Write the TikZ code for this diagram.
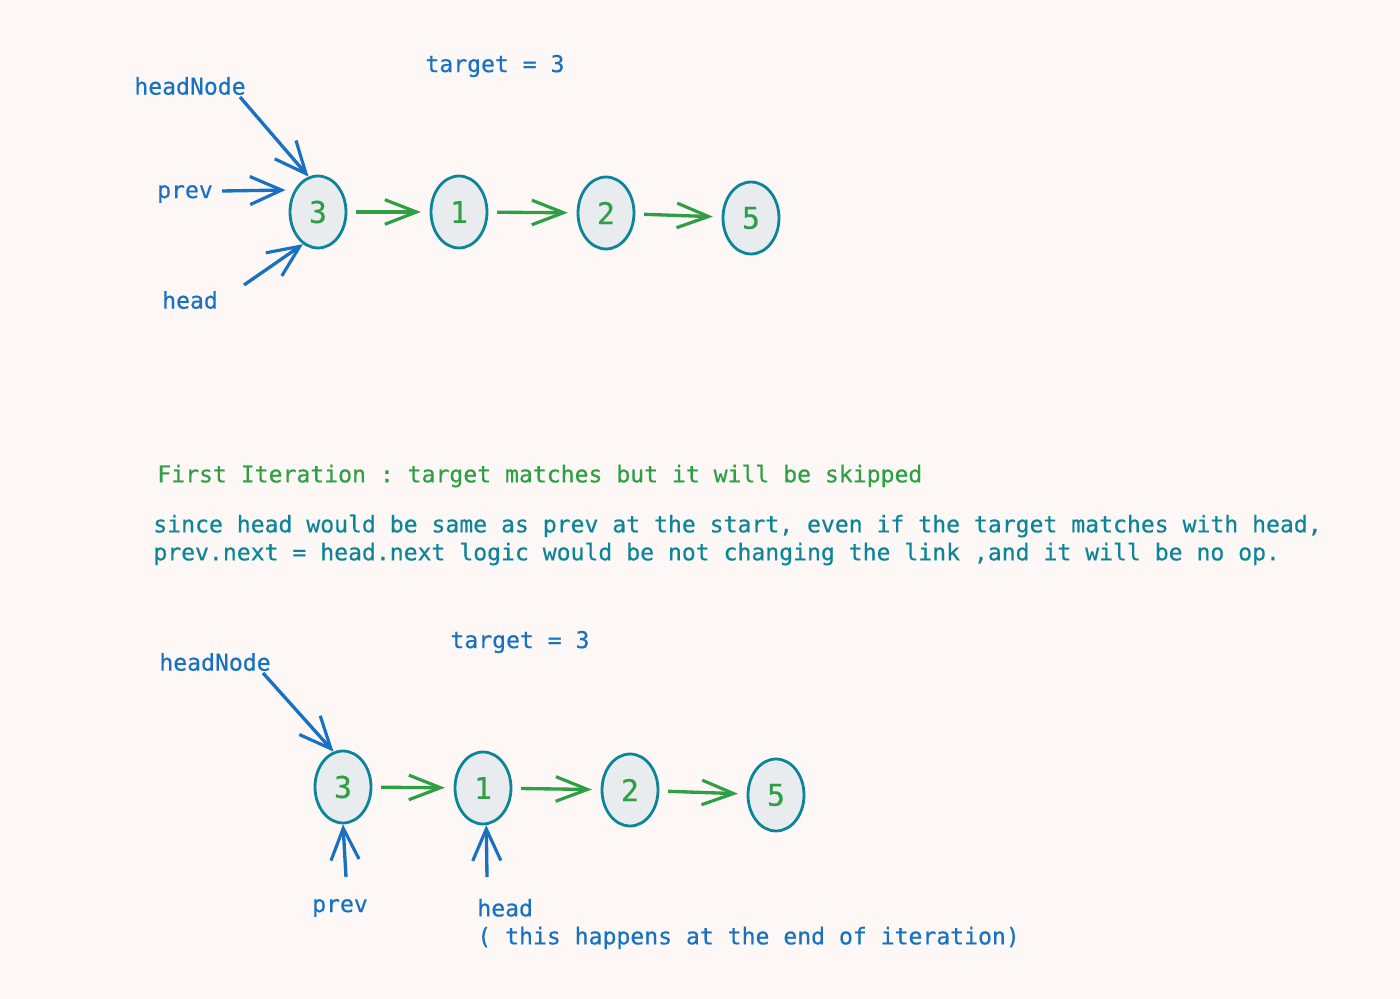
\documentclass[tikz,border=0pt]{standalone}
\usepackage{fontspec}
\setmonofont{DejaVu Sans Mono}[UprightFeatures={FakeBold=0.5}]
\usepackage{tikz}
\usetikzlibrary{arrows.meta, shapes.geometric, positioning}

\definecolor{bgpaper}{HTML}{FDF8F6}
\definecolor{ptrblue}{HTML}{1971C2}
\definecolor{linkgreen}{HTML}{2F9E44}
\definecolor{nodeteal}{HTML}{0C8599}
\definecolor{nodefill}{HTML}{E9ECEF}

\tikzset{
  listnode/.style={
    ellipse, minimum width=1.12cm, minimum height=1.44cm, inner sep=0pt,
    draw=nodeteal, fill=nodefill, line width=1.6pt,
    text=linkgreen, font=\ttfamily\fontsize{17}{19}\selectfont
  },
  ptrlabel/.style={
    inner sep=0pt, text=ptrblue, font=\ttfamily\fontsize{13.15}{15.9}\selectfont
  },
  notetext/.style={
    inner sep=0pt, align=left, text=#1, font=\ttfamily\fontsize{13.15}{15.9}\selectfont
  },
  linkarrow/.style={
    -{Straight Barb[length=18pt, width=14pt, line width=1.8pt]},
    line width=1.9pt, color=linkgreen, shorten <=5pt, shorten >=5pt
  },
  ptrarrow/.style={
    -{Straight Barb[length=18pt, width=16pt, line width=1.8pt]},
    line width=1.9pt, color=ptrblue
  },
}

\begin{document}
\begin{tikzpicture}[x=0.02cm, y=-0.02cm]
    \fill[bgpaper] (0,0) rectangle (1400,999);
    \useasboundingbox (0,0) rectangle (1400,999);

    % before the loop
    \node[ptrlabel] (tgtA) at (495,66) {target = 3};
    \node[listnode] (a3) at (318,212) {3};
    \node[listnode] (a1) at (459,212) {1};
    \node[listnode] (a2) at (606,213) {2};
    \node[listnode] (a5) at (751,218) {5};
    \draw[linkarrow] (a3) -- (a1);
    \draw[linkarrow] (a1) -- (a2);
    \draw[linkarrow] (a2) -- (a5);

    \node[ptrlabel] (hnA)   at (190,86)  {headNode};
    \node[ptrlabel] (prevA) at (185,194) {prev};
    \node[ptrlabel] (headA) at (190,300) {head};
    \coordinate (hnAt)   at (240,97);
    \coordinate (prevAt) at (222,191);
    \coordinate (headAt) at (244,285);
    \draw[ptrarrow] (hnAt) -- (a3.105);
    \draw[ptrarrow, shorten >=5pt] (prevAt) -- (a3.137);
    \draw[ptrarrow] (headAt) -- (a3.245);

    % explanation
    \node[notetext=linkgreen, anchor=west] (iter) at (157,476)
      {First Iteration : target matches but it will be skipped};
    \node[notetext=nodeteal, anchor=west] (why) at (153,540)
      {since head would be same as prev at the start, even if the target matches with head,\\
       prev.next = head.next logic would be not changing the link ,and it will be no op.};

    % after the first iteration
    \node[ptrlabel] (tgtB) at (520,642) {target = 3};
    \node[listnode] (b3) at (343,787) {3};
    \node[listnode] (b1) at (483,788) {1};
    \node[listnode] (b2) at (630,790) {2};
    \node[listnode] (b5) at (776,795) {5};
    \draw[linkarrow] (b3) -- (b1);
    \draw[linkarrow] (b1) -- (b2);
    \draw[linkarrow] (b2) -- (b5);

    \node[ptrlabel] (hnB)   at (215,662) {headNode};
    \node[ptrlabel] (prevB) at (340,908) {prev};
    \node[notetext=ptrblue, anchor=west] (headB) at (477,924)
      {head\\( this happens at the end of iteration)};
    \coordinate (hnBt)   at (263,673);
    \coordinate (prevBt) at (346,877);
    \coordinate (headBt) at (487,877);
    \draw[ptrarrow] (hnBt) -- (b3.105);
    \draw[ptrarrow] (prevBt) -- (b3.south);
    \draw[ptrarrow] (headBt) -- (b1.-85);
\end{tikzpicture}
\end{document}
